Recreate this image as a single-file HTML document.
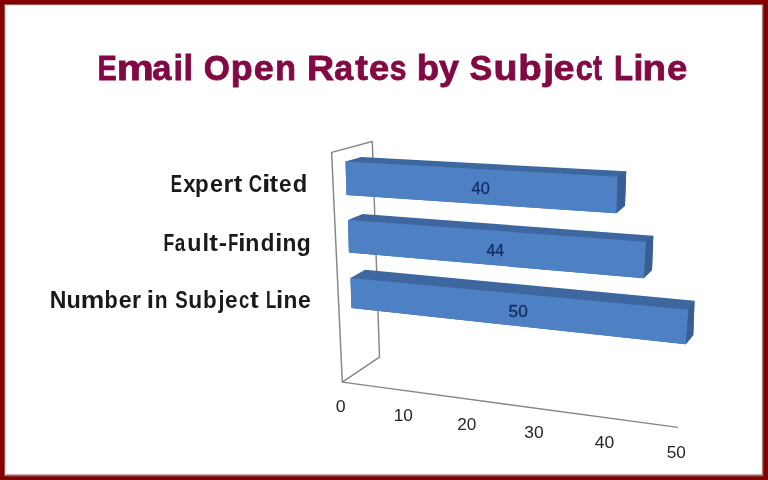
<!DOCTYPE html>
<html>
<head>
<meta charset="utf-8">
<title>Email Open Rates by Subject Line</title>
<style>
html,body{margin:0;padding:0;background:#fff;}
body{width:768px;height:480px;overflow:hidden;position:relative;font-family:"Liberation Sans",sans-serif;}
svg{position:absolute;left:0;top:0;will-change:transform;}
text{font-family:"Liberation Sans",sans-serif;}
</style>
</head>
<body>
<svg width="768" height="480" viewBox="0 0 768 480">
  <!-- picture frame: red border with soft dark inner edge -->
  <g shape-rendering="crispEdges">
    <rect x="0" y="0" width="768" height="480" fill="#860000"/>
    <rect x="3" y="3" width="762" height="475" fill="#6c0404"/>
    <rect x="4" y="4" width="760" height="473" fill="#fff"/>
    <rect x="4" y="4" width="1" height="473" fill="#955c5c"/>
    <rect x="5" y="5" width="1" height="470" fill="#dfcfcc"/>
    <rect x="6" y="6" width="1" height="467" fill="#fbf7f6"/>
    <rect x="4" y="4" width="760" height="1" fill="#955c5c"/>
    <rect x="5" y="5" width="757" height="1" fill="#f1e3e3"/>
    <rect x="763" y="4" width="1" height="473" fill="#7d2d2d"/>
    <rect x="762" y="5" width="1" height="471" fill="#a87878"/>
    <rect x="761" y="6" width="1" height="468" fill="#f6efef"/>
    <rect x="4" y="476" width="760" height="1" fill="#803232"/>
    <rect x="5" y="475" width="758" height="1" fill="#975c5c"/>
    <rect x="6" y="474" width="756" height="1" fill="#d4b4b4"/>
    <rect x="6" y="473" width="755" height="1" fill="#f8f2f2"/>
  </g>
  <!-- chart title -->
  <g>
    <text y="80.25" font-size="34.6" font-weight="bold" fill="#820943" stroke="#820943" stroke-width="0.8"><tspan x="97.56" textLength="19.28" lengthAdjust="spacingAndGlyphs">E</tspan><tspan x="116.89" textLength="37.04" lengthAdjust="spacingAndGlyphs">m</tspan><tspan x="152.35" textLength="19.17" lengthAdjust="spacingAndGlyphs">a</tspan><tspan x="173.62" textLength="9.55" lengthAdjust="spacingAndGlyphs">i</tspan><tspan x="183.45" textLength="9.68" lengthAdjust="spacingAndGlyphs">l</tspan> <tspan x="203.7" textLength="26.1" lengthAdjust="spacingAndGlyphs">O</tspan><tspan x="230.88" textLength="21.93" lengthAdjust="spacingAndGlyphs">p</tspan><tspan x="253.84" textLength="19.92" lengthAdjust="spacingAndGlyphs">e</tspan><tspan x="275.13" textLength="20.74" lengthAdjust="spacingAndGlyphs">n</tspan> <tspan x="307.13" textLength="27.13" lengthAdjust="spacingAndGlyphs">R</tspan><tspan x="334.29" textLength="18.91" lengthAdjust="spacingAndGlyphs">a</tspan><tspan x="355.36" textLength="12.59" lengthAdjust="spacingAndGlyphs">t</tspan><tspan x="368.95" textLength="20.15" lengthAdjust="spacingAndGlyphs">e</tspan><tspan x="389.78" textLength="16.72" lengthAdjust="spacingAndGlyphs">s</tspan> <tspan x="416.71" textLength="22.35" lengthAdjust="spacingAndGlyphs">b</tspan><tspan x="438.94" textLength="19.93" lengthAdjust="spacingAndGlyphs">y</tspan> <tspan x="469.55" textLength="22.7" lengthAdjust="spacingAndGlyphs">S</tspan><tspan x="493.4" textLength="24.01" lengthAdjust="spacingAndGlyphs">u</tspan><tspan x="518.2" textLength="23.5" lengthAdjust="spacingAndGlyphs">b</tspan><tspan x="543.35" textLength="10.88" lengthAdjust="spacingAndGlyphs">j</tspan><tspan x="553.4" textLength="20.96" lengthAdjust="spacingAndGlyphs">e</tspan><tspan x="575.83" textLength="17.02" lengthAdjust="spacingAndGlyphs">c</tspan><tspan x="593.1" textLength="8.98" lengthAdjust="spacingAndGlyphs">t</tspan> <tspan x="613.97" textLength="19.03" lengthAdjust="spacingAndGlyphs">L</tspan><tspan x="633.45" textLength="9.93" lengthAdjust="spacingAndGlyphs">i</tspan><tspan x="642.52" textLength="23.5" lengthAdjust="spacingAndGlyphs">n</tspan><tspan x="666.91" textLength="20.24" lengthAdjust="spacingAndGlyphs">e</tspan></text>
  </g>
  <!-- category labels -->
  <g>
    <text y="191.6" font-size="24.4" font-weight="bold" fill="#1a1a1a"><tspan x="170.63" textLength="11.3" lengthAdjust="spacingAndGlyphs">E</tspan><tspan x="183.37" textLength="12.39" lengthAdjust="spacingAndGlyphs">x</tspan><tspan x="195.11" textLength="13.62" lengthAdjust="spacingAndGlyphs">p</tspan><tspan x="210.08" textLength="13.01" lengthAdjust="spacingAndGlyphs">e</tspan><tspan x="223.51" textLength="9.81" lengthAdjust="spacingAndGlyphs">r</tspan><tspan x="233.69" textLength="8.55" lengthAdjust="spacingAndGlyphs">t</tspan> <tspan x="248.84" textLength="13.35" lengthAdjust="spacingAndGlyphs">C</tspan><tspan x="262.0" textLength="8.45" lengthAdjust="spacingAndGlyphs">i</tspan><tspan x="269.64" textLength="8.59" lengthAdjust="spacingAndGlyphs">t</tspan><tspan x="279.09" textLength="12.51" lengthAdjust="spacingAndGlyphs">e</tspan><tspan x="292.64" textLength="14.5" lengthAdjust="spacingAndGlyphs">d</tspan></text>
    <text y="250.7" font-size="24.4" font-weight="bold" fill="#1a1a1a"><tspan x="163.59" textLength="10.7" lengthAdjust="spacingAndGlyphs">F</tspan><tspan x="174.75" textLength="10.58" lengthAdjust="spacingAndGlyphs">a</tspan><tspan x="187.3" textLength="14.19" lengthAdjust="spacingAndGlyphs">u</tspan><tspan x="202.4" textLength="6.54" lengthAdjust="spacingAndGlyphs">l</tspan><tspan x="209.22" textLength="8.73" lengthAdjust="spacingAndGlyphs">t</tspan><tspan x="218.67" textLength="8.28" lengthAdjust="spacingAndGlyphs">-</tspan><tspan x="228.27" textLength="10.03" lengthAdjust="spacingAndGlyphs">F</tspan><tspan x="238.31" textLength="7.2" lengthAdjust="spacingAndGlyphs">i</tspan><tspan x="245.33" textLength="14.07" lengthAdjust="spacingAndGlyphs">n</tspan><tspan x="260.87" textLength="13.64" lengthAdjust="spacingAndGlyphs">d</tspan><tspan x="275.27" textLength="7.07" lengthAdjust="spacingAndGlyphs">i</tspan><tspan x="282.54" textLength="13.88" lengthAdjust="spacingAndGlyphs">n</tspan><tspan x="296.69" textLength="13.98" lengthAdjust="spacingAndGlyphs">g</tspan></text>
    <text y="308.1" font-size="24.4" font-weight="bold" fill="#1a1a1a"><tspan x="49.79" textLength="16.66" lengthAdjust="spacingAndGlyphs">N</tspan><tspan x="66.41" textLength="14.3" lengthAdjust="spacingAndGlyphs">u</tspan><tspan x="80.66" textLength="23.51" lengthAdjust="spacingAndGlyphs">m</tspan><tspan x="104.57" textLength="13.24" lengthAdjust="spacingAndGlyphs">b</tspan><tspan x="118.69" textLength="12.96" lengthAdjust="spacingAndGlyphs">e</tspan><tspan x="132.07" textLength="9.0" lengthAdjust="spacingAndGlyphs">r</tspan> <tspan x="146.86" textLength="7.25" lengthAdjust="spacingAndGlyphs">i</tspan><tspan x="154.86" textLength="12.83" lengthAdjust="spacingAndGlyphs">n</tspan> <tspan x="175.13" textLength="12.45" lengthAdjust="spacingAndGlyphs">S</tspan><tspan x="188.34" textLength="13.88" lengthAdjust="spacingAndGlyphs">u</tspan><tspan x="203.09" textLength="13.65" lengthAdjust="spacingAndGlyphs">b</tspan><tspan x="218.45" textLength="5.98" lengthAdjust="spacingAndGlyphs">j</tspan><tspan x="225.12" textLength="12.59" lengthAdjust="spacingAndGlyphs">e</tspan><tspan x="238.95" textLength="10.27" lengthAdjust="spacingAndGlyphs">c</tspan><tspan x="250.02" textLength="8.71" lengthAdjust="spacingAndGlyphs">t</tspan> <tspan x="265.91" textLength="10.29" lengthAdjust="spacingAndGlyphs">L</tspan><tspan x="275.92" textLength="7.22" lengthAdjust="spacingAndGlyphs">i</tspan><tspan x="283.38" textLength="13.86" lengthAdjust="spacingAndGlyphs">n</tspan><tspan x="298.03" textLength="12.79" lengthAdjust="spacingAndGlyphs">e</tspan></text>
  </g>
  <!-- side wall + floor axis -->
  <g fill="none" stroke="#868686" stroke-width="1.45" stroke-linejoin="round">
    <polygon points="331.6,152.4 372.3,141.5 379.5,357.2 342.3,382.1" fill="#fff"/>
    <line x1="342.3" y1="382.1" x2="678" y2="427.4"/>
  </g>
  <!-- bar: Expert Cited (40) -->
  <g>
    <polygon points="345.5,161.5 361.1,157.1 626.2,171.3 625,205.8 616.3,213.3 346.5,195" fill="#3e67a0"/>
    <polygon points="617.5,176.7 626.2,171.3 625,205.8 616.3,213.3" fill="#385e94"/>
    <polygon points="345.5,161.5 617.5,176.7 616.3,213.3 346.5,195" fill="#4e81c4"/>
  </g>
  <!-- bar: Fault-Finding (44) -->
  <g>
    <polygon points="348,220 362.6,214 653.3,235.8 652,270 643.7,278.3 348.9,252.5" fill="#3e67a0"/>
    <polygon points="645.8,241.7 653.3,235.8 652,270 643.7,278.3" fill="#385e94"/>
    <polygon points="348,220 645.8,241.7 643.7,278.3 348.9,252.5" fill="#4e81c4"/>
  </g>
  <!-- bar: Number in Subject Line (50) -->
  <g>
    <polygon points="350.5,278.0 365.1,269.75 694.5,300.8 693.3,335 685.8,344.2 351.4,308.1" fill="#3e67a0"/>
    <polygon points="688.3,309.8 694.5,300.8 693.3,335 685.8,344.2" fill="#385e94"/>
    <polygon points="350.5,278.0 688.3,309.8 685.8,344.2 351.4,308.1" fill="#4e81c4"/>
  </g>
  <!-- data labels -->
  <g>
    <text y="193.8" font-size="16" fill="#152e66" stroke="#152e66" stroke-width="0.3"><tspan x="471.62" textLength="18.18" lengthAdjust="spacingAndGlyphs">40</tspan></text>
    <text y="255.9" font-size="16" fill="#152e66" stroke="#152e66" stroke-width="0.3"><tspan x="486.45" textLength="17.51" lengthAdjust="spacingAndGlyphs">44</tspan></text>
    <text y="316.75" font-size="16" fill="#152e66" stroke="#152e66" stroke-width="0.3"><tspan x="508.58" textLength="19.18" lengthAdjust="spacingAndGlyphs">50</tspan></text>
  </g>
  <!-- axis labels -->
  <g>
    <text y="411.8" font-size="16" fill="#262626"><tspan x="335.65" textLength="9.87" lengthAdjust="spacingAndGlyphs">0</tspan></text>
    <text y="420.8" font-size="16" fill="#262626"><tspan x="393.65" textLength="19.11" lengthAdjust="spacingAndGlyphs">10</tspan></text>
    <text y="429.6" font-size="16" fill="#262626"><tspan x="457.21" textLength="19.06" lengthAdjust="spacingAndGlyphs">20</tspan></text>
    <text y="438.4" font-size="16" fill="#262626"><tspan x="524.29" textLength="19.32" lengthAdjust="spacingAndGlyphs">30</tspan></text>
    <text y="447.8" font-size="16" fill="#262626"><tspan x="594.69" textLength="19.42" lengthAdjust="spacingAndGlyphs">40</tspan></text>
    <text y="457.5" font-size="16" fill="#262626"><tspan x="666.71" textLength="19.15" lengthAdjust="spacingAndGlyphs">50</tspan></text>
  </g>
</svg>
</body>
</html>
